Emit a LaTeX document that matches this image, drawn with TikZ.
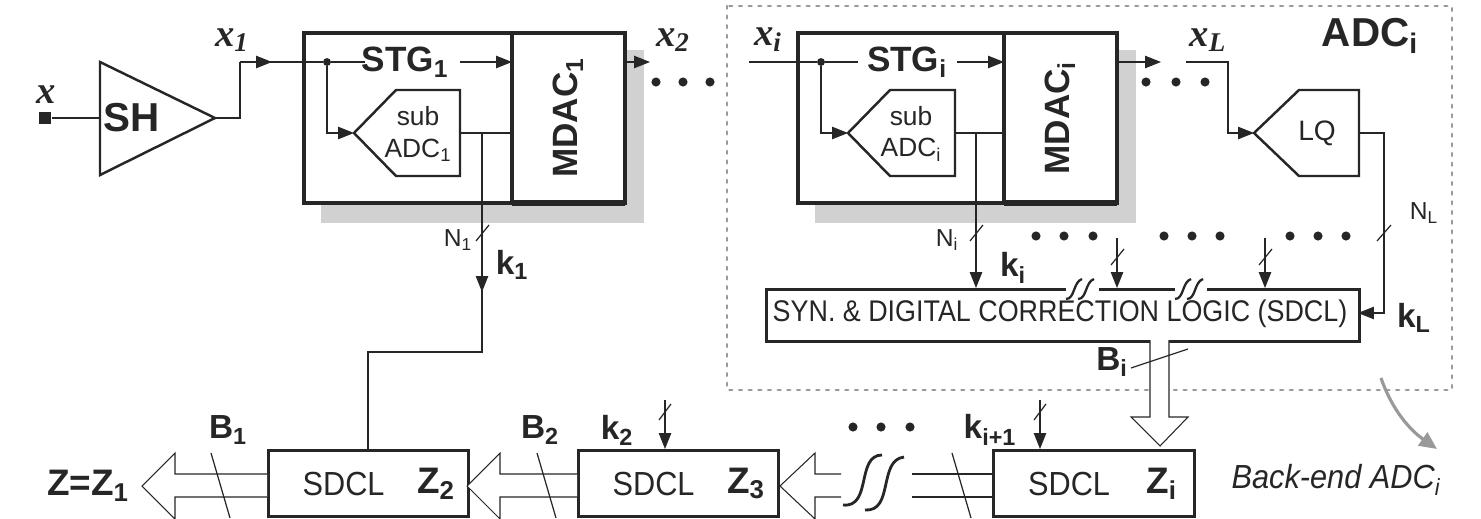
\documentclass[tikz,border=0pt]{standalone}
\usepackage{fontspec}
\setmainfont{Liberation Sans}
\newfontfamily\serifit{Liberation Serif}
\usetikzlibrary{arrows.meta}
\newcommand{\fs}[1]{\fontsize{#1}{#1}\selectfont}
\begin{document}
\begin{tikzpicture}[x=0.02cm,y=-0.02cm,
  thin line/.style={line width=0.7pt,draw=black!85},
  box/.style={line width=1.8pt,draw=black!85,fill=white},
  arr/.style={thin line,-{Triangle[length=9pt,width=7pt]}},
  lbl/.style={inner sep=0pt,text=black!85},
  xl/.style={lbl,font=\serifit\bfseries\itshape\fs{22}},
  kl/.style={lbl,font=\bfseries\fs{19}},
  nl/.style={lbl,font=\fs{14}},
  dot/.style={circle,fill=black!85,inner sep=0pt,minimum size=4.5pt},
  shadow/.style={fill=black!18,draw=none},
  hollow/.style={line width=0.6pt,draw=black!85,fill=white}]
\useasboundingbox (0,0) rectangle (1481,518);
% dashed frame
\draw[black!40,line width=1.6pt,dash pattern=on 1.5pt off 4pt,line cap=round] (727,6) rectangle (1452,390);
\node[lbl,font=\bfseries\fs{23}] (adci) at (1370,36) {ADC\textsubscript{i}};
% input
\node[fill=black!85,minimum size=7pt,inner sep=0pt] (xin) at (45,118) {};
\node[xl] at (46,95) {x};
\draw[thin line] (xin) -- (100,118);
\draw[line width=1.4pt,draw=black!85] (100,62) -- (215,118) -- (100,175) -- cycle;
\node[lbl,font=\bfseries\fs{23}] (sh) at (132,118) {SH};
\draw[thin line] (215,118) -- (240,118) -- (240,62);
\draw[arr] (240,62) -- (272,62);
\draw[thin line] (270,62) -- (305,62);
\node[xl] at (232,40) {x\textsubscript{1}};
% stage 1
\fill[shadow] (321,50) rectangle (644,223);
\draw[box] (304,33) rectangle (512,203);
\draw[box] (512,33) rectangle (625,203);
\draw[line width=3pt,black!85] (512,203) -- (625,203);
\node[lbl,rotate=90,font=\bfseries\fs{20}] (mdac1) at (568,118) {MDAC\textsubscript{1}};
\node[dot] (d1) at (327,62) {};
\draw[thin line] (304,62) -- (d1) -- (365,62);
\node[lbl,font=\bfseries\fs{20}] (stg1) at (405,62) {STG\textsubscript{1}};
\draw[arr] (460,62) -- (512,62);
\draw[line width=1.4pt,draw=black!85] (354,133) -- (396,90) -- (460,90) -- (460,176) -- (396,176) -- cycle;
\node[lbl,font=\fs{15}] at (418,116) {sub};
\node[lbl,font=\fs{15}] at (418,150) {ADC\textsubscript{1}};
\draw[arr] (d1) -- (327,133) -- (354,133);
\draw[thin line] (460,133) -- (512,133);
\draw[arr] (482,133) -- (482,292);
\draw[thin line] (482,290) -- (482,352) -- (368,352) -- (368,449);
\draw[thin line] (476,241) -- (489,225);
\node[nl] at (458,240) {N\textsubscript{1}};
\node[kl] at (512,265) {k\textsubscript{1}};
\draw[arr] (625,62) -- (650,62);
\node[xl] at (673,40) {x\textsubscript{2}};
\foreach \x in {656,683,710} \fill[black!85] (\x,82) circle (2.6pt);
% stage i
\fill[shadow] (815,50) rectangle (1136,223);
\draw[box] (798,33) rectangle (1004,203);
\draw[box] (1004,33) rectangle (1117,203);
\draw[line width=3pt,black!85] (1004,203) -- (1117,203);
\node[lbl,rotate=90,font=\bfseries\fs{20}] (mdaci) at (1060,118) {MDAC\textsubscript{i}};
\node[xl] at (768,40) {x\textsubscript{i}};
\node[dot] (di) at (821,62) {};
\draw[thin line] (749,62) -- (di) -- (858,62);
\node[lbl,font=\bfseries\fs{20}] (stgi) at (907,62) {STG\textsubscript{i}};
\draw[arr] (957,62) -- (1004,62);
\draw[line width=1.4pt,draw=black!85] (848,133) -- (890,90) -- (955,90) -- (955,176) -- (890,176) -- cycle;
\node[lbl,font=\fs{15}] at (911,116) {sub};
\node[lbl,font=\fs{15}] at (911,150) {ADC\textsubscript{i}};
\draw[arr] (di) -- (821,133) -- (848,133);
\draw[thin line] (955,133) -- (1004,133);
\draw[arr] (976,133) -- (976,288);
\draw[thin line] (970,241) -- (983,225);
\node[nl] at (947,240) {N\textsubscript{i}};
\node[kl] at (1013,268) {k\textsubscript{i}};
\draw[arr] (1117,62) -- (1161,62);
\foreach \x in {1146,1176,1205} \fill[black!85] (\x,82) circle (2.6pt);
\node[xl] at (1208,40) {x\textsubscript{\itshape L}};
% LQ
\draw[line width=1.4pt,draw=black!85] (1254,133) -- (1299,90) -- (1359,90) -- (1359,176) -- (1299,176) -- cycle;
\node[lbl,font=\fs{16}] (lq) at (1317,133) {LQ};
\draw[arr] (1186,62) -- (1228,62) -- (1228,133) -- (1254,133);
\draw[arr] (1359,133) -- (1384,133) -- (1384,313) -- (1358,313);
\draw[thin line] (1377,241) -- (1391,225);
\node[nl] at (1424,213) {N\textsubscript{L}};
\node[kl] at (1414,318) {k\textsubscript{L}};
\foreach \x in {1036,1064,1093,1164,1192,1220,1290,1318,1346} \fill[black!85] (\x,236) circle (2.6pt);
% SDCL big box
\node[box,minimum width=593*0.02cm,minimum height=52*0.02cm,anchor=north west,inner sep=0pt] (sdcl) at (765,288) {};
\node[lbl,font=\fs{17},xscale=0.9] at (1060,314) {SYN. \& DIGITAL CORRECTION LOGIC (SDCL)};
\fill[white] (1066,282) rectangle (1099,294);
\fill[white] (1175,282) rectangle (1207,294);
\foreach \s in {1066,1175}{
  \draw[line width=1.3pt,black!85] (\s,299) .. controls (\s+9,299) and (\s+7,282) .. (\s+16,279);
  \draw[line width=1.3pt,black!85] (\s+12,299) .. controls (\s+21,299) and (\s+19,282) .. (\s+28,279);
}
\draw[arr] (1117,238) -- (1117,288);
\draw[thin line] (1111,265) -- (1124,249);
\draw[arr] (1265,238) -- (1265,288);
\draw[thin line] (1259,265) -- (1272,249);
% Bi hollow arrow
\draw[hollow] (1150,340) -- (1150,417) -- (1131,417) -- (1160,446) -- (1188,417) -- (1169,417) -- (1169,340);
\draw[thin line] (1131,368) -- (1188,349);
\node[kl] at (1112,362) {B\textsubscript{i}};
% gray curved arrow
\draw[black!40,line width=1.8pt,-{Triangle[length=10pt,width=9pt]}] (1381,378) .. controls (1392,410) and (1410,430) .. (1437,449);
\node[lbl,font=\itshape\fs{19},xscale=0.92] at (1336,480) {Back-end ADC\textsubscript{i}};
% bottom blocks
\node[box,minimum width=200*0.02cm,minimum height=66*0.02cm,anchor=north west,inner sep=0pt] (z2) at (267,449) {};
\node[box,minimum width=200*0.02cm,minimum height=66*0.02cm,anchor=north west,inner sep=0pt] (z3) at (577,449) {};
\node[box,minimum width=201*0.02cm,minimum height=66*0.02cm,anchor=north west,inner sep=0pt] (zi) at (992,449) {};
\foreach \n/\z in {z2/2,z3/3,zi/i}{
  \node[lbl,font=\fs{19},xscale=0.92] at ([xshift=-0.5cm]\n.center) {SDCL};
  \node[lbl,font=\bfseries\fs{21}] at ([xshift=1.35cm]\n.center) {Z\textsubscript{\z}};
}
% hollow arrows
\draw[hollow] (267,474) -- (175,474) -- (175,453) -- (142,486) -- (175,519) -- (175,497) -- (267,497);
\draw[thin line] (211,453) -- (230,518);
\node[kl] at (228,430) {B\textsubscript{1}};
\node[lbl,font=\bfseries\fs{21}] (zout) at (88,486) {Z=Z\textsubscript{1}};
\draw[hollow] (577,474) -- (500,474) -- (500,453) -- (467,486) -- (500,519) -- (500,497) -- (577,497);
\draw[thin line] (537,453) -- (556,518);
\node[kl] at (540,430) {B\textsubscript{2}};
\draw[hollow] (841,474) -- (815,474) -- (815,453) -- (780,486) -- (815,519) -- (815,497) -- (841,497);
\draw[thin line] (912,474) -- (992,474);
\draw[thin line] (912,497) -- (992,497);
\draw[thin line] (952,453) -- (971,518);
\draw[line width=1.6pt,black!85] (843,505) .. controls (872,508) and (856,455) .. (882,455);
\draw[line width=1.6pt,black!85] (865,510) .. controls (894,512) and (878,460) .. (904,457);
\foreach \x in {853,881,910} \fill[black!85] (\x,427) circle (2.6pt);
\node[kl] at (617,430) {k\textsubscript{2}};
\draw[arr] (665,400) -- (665,449);
\draw[thin line] (659,420) -- (671,404);
\node[kl] at (990,430) {k\textsubscript{i+1}};
\draw[arr] (1040,400) -- (1040,449);
\draw[thin line] (1034,420) -- (1046,404);
\end{tikzpicture}
\end{document}
